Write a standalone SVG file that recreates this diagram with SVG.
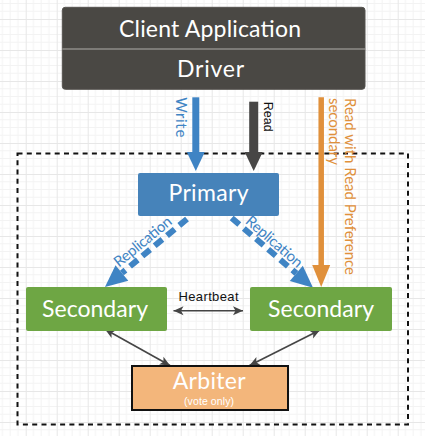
<svg xmlns="http://www.w3.org/2000/svg" width="425" height="436" viewBox="0 0 425 436">
<style>
.lbl{font-family:Lato,"Open Sans",sans-serif;fill:#fff;text-anchor:middle}
.big{font-size:23px}
.small{font-family:"Liberation Sans",Arial,sans-serif;font-size:10.5px;fill:#fff;text-anchor:middle}
.hb{font-family:"Liberation Sans",Arial,sans-serif;font-size:13px;fill:#111;text-anchor:middle}
.rot{font-family:Lato,"Open Sans",sans-serif;font-size:15px}
.thin{stroke:#454545;stroke-width:1.6;fill:none}
</style>
<defs>
<pattern id="grid" patternUnits="userSpaceOnUse" x="-5.3" y="19" width="31" height="31">
<path d="M7.75,0V31M15.5,0V31M23.25,0V31M0,7.75H31M0,15.5H31M0,23.25H31" stroke="#f3f3f3" stroke-width="1"/>
<path d="M0.5,0V31M0,0.5H31" stroke="#e7e7e7" stroke-width="1"/>
</pattern>
<marker id="hBlue" markerUnits="userSpaceOnUse" orient="auto" refX="0" refY="0" markerWidth="30" markerHeight="30" overflow="visible"><path d="M0,-9L19,0L0,9z" fill="#3f84c4"/></marker>
<marker id="hDark" markerUnits="userSpaceOnUse" orient="auto" refX="0" refY="0" markerWidth="30" markerHeight="30" overflow="visible"><path d="M0,-9L19,0L0,9z" fill="#474645"/></marker>
<marker id="hOrange" markerUnits="userSpaceOnUse" orient="auto" refX="0" refY="0" markerWidth="30" markerHeight="30" overflow="visible"><path d="M0,-9L22,0L0,9z" fill="#e0903b"/></marker>
<marker id="hRep" markerUnits="userSpaceOnUse" orient="auto" refX="0" refY="0" markerWidth="30" markerHeight="30" overflow="visible"><path d="M0,-10L22,0L0,10z" fill="#3f84c4"/></marker>
<marker id="hThin" markerUnits="userSpaceOnUse" orient="auto-start-reverse" refX="0" refY="0" markerWidth="20" markerHeight="20" overflow="visible"><path d="M-10,-4.5L0,0L-10,4.5L-7.5,0z" fill="#454545"/></marker>
</defs>
<rect width="425" height="436" fill="#fff"/>
<rect width="425" height="436" fill="url(#grid)"/>

<rect id="replica-set" x="17.5" y="153.5" width="390.5" height="271" fill="none" stroke="#111" stroke-width="2" stroke-dasharray="5 4.3"/>

<g id="connectors">
<line x1="195.8" y1="97.3" x2="195.8" y2="152" stroke="#3f84c4" stroke-width="7" marker-end="url(#hBlue)"/>
<line x1="253.7" y1="101.7" x2="253.7" y2="152" stroke="#474645" stroke-width="9" marker-end="url(#hDark)"/>
<line x1="321.2" y1="97.3" x2="321.2" y2="265" stroke="#e0903b" stroke-width="5.5" marker-end="url(#hOrange)"/>
<line x1="187" y1="219" x2="121.9" y2="273" stroke="#3f84c4" stroke-width="6" stroke-dasharray="10 6" marker-end="url(#hRep)"/>
<line x1="231.7" y1="218" x2="296.3" y2="273.4" stroke="#3f84c4" stroke-width="6" stroke-dasharray="10 6" marker-end="url(#hRep)"/>
<line class="thin" x1="173.5" y1="310.7" x2="243" y2="310.7" marker-start="url(#hThin)" marker-end="url(#hThin)"/>
<line class="thin" x1="105" y1="329.3" x2="170" y2="365.5" marker-start="url(#hThin)" marker-end="url(#hThin)"/>
<line class="thin" x1="320" y1="330" x2="249.5" y2="365.5" marker-start="url(#hThin)" marker-end="url(#hThin)"/>
<text class="rot" fill="#3f84c4" font-size="14" transform="translate(176,97.3) rotate(90)" textLength="40">Write</text>
<text fill="#111" font-family="Liberation Sans,Arial,sans-serif" font-size="12.5" transform="translate(264,101.7) rotate(90)" textLength="30">Read</text>
<text class="rot" fill="#e0903b" font-size="15.5" transform="translate(345,98) rotate(90)" textLength="177">Read with Read Preference</text>
<text class="rot" fill="#e0903b" font-size="15.5" transform="translate(328.5,98) rotate(90)" textLength="67">secondary</text>
<text class="rot" fill="#3f84c4" text-anchor="middle" transform="translate(146,245.5) rotate(-39.5)" textLength="70">Replication</text>
<text class="rot" fill="#3f84c4" text-anchor="middle" transform="translate(271,245.5) rotate(41)" textLength="70">Replication</text>
<text class="hb" x="208.5" y="301" textLength="60">Heartbeat</text>
</g>

<g id="client">
<rect x="62.3" y="7.3" width="302.7" height="82" rx="3" fill="#4a4844" stroke="#55534f" stroke-width="1"/>
<line x1="62.3" y1="49" x2="365" y2="49" stroke="#8f8d88" stroke-width="1.6"/>
<text class="lbl big" x="210" y="37" textLength="182">Client Application</text>
<text class="lbl big" x="210.5" y="77" textLength="67">Driver</text>
</g>

<g id="primary">
<rect x="138" y="173" width="141" height="43" rx="2" fill="#4683ba"/>
<text class="lbl big" x="208.5" y="200.5" textLength="80">Primary</text>
</g>

<g id="secondary-left">
<rect x="26" y="287" width="141" height="44" rx="2" fill="#6ea644"/>
<text class="lbl big" x="95" y="316.5" textLength="106">Secondary</text>
</g>

<g id="secondary-right">
<rect x="250" y="287" width="142" height="44" rx="2" fill="#6ea644"/>
<text class="lbl big" x="321" y="316.5" textLength="106">Secondary</text>
</g>

<g id="arbiter">
<rect x="132" y="366" width="156" height="44" fill="#f3b67b" stroke="#111" stroke-width="2"/>
<text class="lbl big" x="209.2" y="389" textLength="73">Arbiter</text>
<text class="small" x="209" y="404.5" textLength="50">(vote only)</text>
</g>
</svg>
